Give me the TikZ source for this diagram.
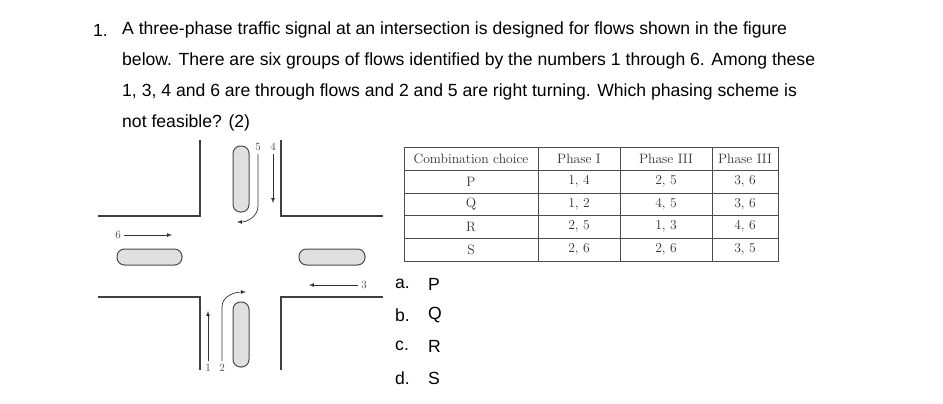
\documentclass[tikz,border=0pt]{standalone}
\usepackage{fontspec}
\setmainfont{Liberation Sans}
\newfontfamily\tabfont{Latin Modern Roman}
\begin{document}
\begin{tikzpicture}[x=1pt,y=-1pt,
  road/.style={draw=black!75,line width=1.2pt},
  island/.style={draw=black!70,fill=black!12,line width=1pt,rounded corners=7.5pt},
  flow/.style={draw=black!80,line width=0.7pt,-latex},
  qtxt/.style={anchor=west,font=\fontsize{17.6}{20}\selectfont,inner sep=0pt},
  lab/.style={font=\tabfont\fontsize{11}{12}\selectfont,text=black!70,inner sep=0pt},
  cell/.style={font=\tabfont\fontsize{13.6}{15}\selectfont,text=black!80,inner sep=0pt},
  tline/.style={draw=black!70,line width=0.6pt}]
\useasboundingbox (0,0) rectangle (943,404);
\fill[white] (0,0) rectangle (943,404);
% question
\node[qtxt] (q0) at (93,30) {1.};
\node[qtxt] (q1) at (122,30) {A three-phase traffic signal at an intersection is designed for flows shown in the figure};
\node[qtxt] (q2) at (122,61) {below. There are six groups of flows identified by the numbers 1 through 6. Among these};
\node[qtxt] (q3) at (122,92) {1, 3, 4 and 6 are through flows and 2 and 5 are right turning. Which phasing scheme is};
\node[qtxt] (q4) at (122,123) {not feasible? (2)};
% roads
\draw[road] (98,216) -- (200,216) -- (200,140);
\draw[road] (281,140) -- (281,216) -- (383,216);
\draw[road] (98,297) -- (200,297) -- (200,370);
\draw[road] (281,370) -- (281,297) -- (383,297);
% islands
\draw[island] (233,146) rectangle (249,212);
\draw[island] (233,302) rectangle (249,367);
\draw[island] (117,249) rectangle (182,265);
\draw[island] (299,249) rectangle (365,265);
% flows
\node[lab] (n6) at (118,235) {6};
\coordinate (e6) at (172,235);
\draw[flow] (n6.east)++(3,0) -- (e6);
\node[lab] (n3) at (364,285) {3};
\coordinate (e3) at (309,285);
\draw[flow] (n3.west)++(-3,0) -- (e3);
\node[lab] (n4) at (273,147) {4};
\coordinate (e4) at (273,203);
\draw[flow] (n4.south)++(0,3) -- (e4);
\node[lab] (n5) at (258,147) {5};
\coordinate (e5) at (237,222);
\draw[flow] (n5.south)++(0,3) -- (258,206) to[out=-90,in=0] (e5);
\node[lab] (n1) at (208,368) {1};
\coordinate (e1) at (208,311);
\draw[flow] (n1.north)++(0,-3) -- (e1);
\node[lab] (n2) at (222,368) {2};
\coordinate (e2) at (246,292);
\draw[flow] (n2.north)++(0,-3) -- (222,307) to[out=90,in=180] (e2);
% table
\draw[tline] (404,147) rectangle (778,261);
\foreach \y in {170,193,215,238} \draw[tline] (404,\y) -- (778,\y);
\foreach \x in {538,620,712} \draw[tline] (\x,147) -- (\x,261);
\node[cell] (h0) at (471,158.5) {Combination choice};
\node[cell] (h1) at (579,158.5) {Phase I};
\node[cell] (h2) at (666,158.5) {Phase III};
\node[cell] (h3) at (745,158.5) {Phase III};
\node[cell] (rP) at (471,181.5) {P};
\node[cell] (rP1) at (579,181.5) {1, 4};
\node[cell] (rP2) at (666,181.5) {2, 5};
\node[cell] (rP3) at (745,181.5) {3, 6};
\node[cell] (rQ) at (471,204) {Q};
\node[cell] (rQ1) at (579,204) {1, 2};
\node[cell] (rQ2) at (666,204) {4, 5};
\node[cell] (rQ3) at (745,204) {3, 6};
\node[cell] (rR) at (471,226.5) {R};
\node[cell] (rR1) at (579,226.5) {2, 5};
\node[cell] (rR2) at (666,226.5) {1, 3};
\node[cell] (rR3) at (745,226.5) {4, 6};
\node[cell] (rS) at (471,249.5) {S};
\node[cell] (rS1) at (579,249.5) {2, 6};
\node[cell] (rS2) at (666,249.5) {2, 6};
\node[cell] (rS3) at (745,249.5) {3, 5};
% options
\node[qtxt] (oa) at (395,284) {a.};
\node[qtxt] (ob) at (395,315) {b.};
\node[qtxt] (oc) at (395,346) {c.};
\node[qtxt] (od) at (395,378) {d.};
\node[qtxt] (pa) at (428,284) {P};
\node[qtxt] (pb) at (428,315) {Q};
\node[qtxt] (pc) at (428,346) {R};
\node[qtxt] (pd) at (428,378) {S};
\end{tikzpicture}
\end{document}
